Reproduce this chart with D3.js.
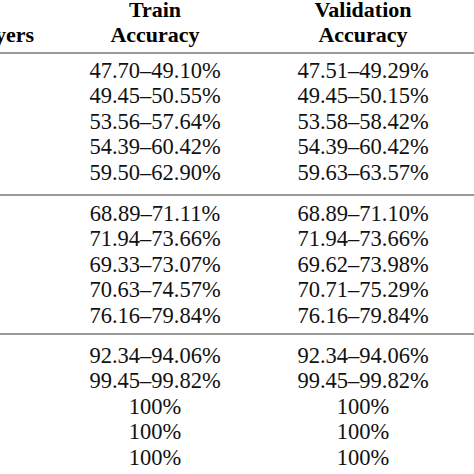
<!DOCTYPE html>
<html><head><meta charset="utf-8">
<script src="https://cdn.jsdelivr.net/npm/d3@7"></script>
<style>body{margin:0;background:#fff}</style>
</head><body>
<svg id="t" width="474" height="474"></svg>
<script>
// table content, one array per column
var headers = [["Train", "Accuracy"], ["Validation", "Accuracy"]];
var groups = [0, 0, 0, 0, 0, 1, 1, 1, 1, 1, 2, 2, 2, 2, 2];
var trainAcc = ["47.70–49.10%", "49.45–50.55%", "53.56–57.64%", "54.39–60.42%", "59.50–62.90%",
  "68.89–71.11%", "71.94–73.66%", "69.33–73.07%", "70.63–74.57%", "76.16–79.84%",
  "92.34–94.06%", "99.45–99.82%", "100%", "100%", "100%"];
var valAcc = ["47.51–49.29%", "49.45–50.15%", "53.58–58.42%", "54.39–60.42%", "59.63–63.57%",
  "68.89–71.10%", "71.94–73.66%", "69.62–73.98%", "70.71–75.29%", "76.16–79.84%",
  "92.34–94.06%", "99.45–99.82%", "100%", "100%", "100%"];

var svg = d3.select("#t");
var font = "'Liberation Serif', serif";
var x = d3.scalePoint().domain([0, 1]).range([155, 363]);
var groupTop = [70, 213, 355];
var rowStep = 25.5;
function rowY(i) { return groupTop[groups[i]] + (i % 5) * rowStep; }

// header
headers.forEach(function(h, c) {
  h.forEach(function(line, k) {
    svg.append("text").attr("x", x(c)).attr("y", 9 + k * 25)
      .attr("text-anchor", "middle").attr("dominant-baseline", "central")
      .style("font-family", font).style("font-weight", "bold").style("font-size", "22px")
      .text(line);
  });
});
svg.append("text").attr("x", 34).attr("y", 34).attr("text-anchor", "end")
  .attr("dominant-baseline", "central")
  .style("font-family", font).style("font-weight", "bold").style("font-size", "22px")
  .text("Layers");

// rules
[53, 195, 334].forEach(function(ly) {
  svg.append("line").attr("x1", 0).attr("x2", 474).attr("y1", ly).attr("y2", ly)
    .attr("stroke", "#333").attr("stroke-width", 1.2);
});

[trainAcc, valAcc].forEach(function(col, c) {
  svg.selectAll(null).data(col).enter().append("text")
    .attr("x", x(c))
    .attr("y", function(d, i) { return rowY(i); })
    .attr("text-anchor", "middle").attr("dominant-baseline", "central")
    .style("font-family", font).style("font-size", "22.5px").attr("fill", "#111")
    .text(function(d) { return d; });
});
</script>
</body></html>
